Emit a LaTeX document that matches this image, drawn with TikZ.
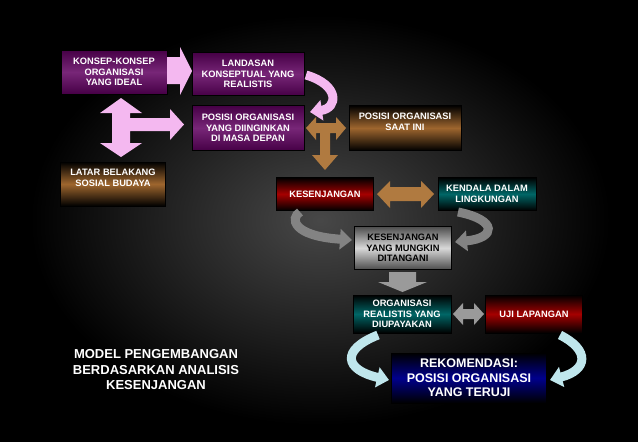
\documentclass[tikz,border=0pt]{standalone}
\usepackage{fontspec}
\setmainfont{Liberation Sans}
\usetikzlibrary{arrows.meta}
\definecolor{pinkA}{HTML}{F4B8F0}
\definecolor{brownA}{HTML}{B07A40}
\definecolor{grayA}{HTML}{9A9A9A}
\definecolor{cyanA}{HTML}{BFE6EC}
\tikzset{x=1pt,y=-1pt,
 box/.style={draw=black,line width=0.6pt,text=white,font=\bfseries\fontsize{9.3}{10.6}\selectfont,align=center,inner sep=0pt},
 purp/.style={box,top color=violet!55!black,bottom color=violet!55!black,middle color=violet!75!black!85},
 brn/.style={box,top color=black,bottom color=black,middle color=brown!90!orange!80!black},
 red/.style={box,top color=black,bottom color=black,middle color=red!65!black},
 teal/.style={box,top color=black,bottom color=black,middle color=teal!80!black},
 gry/.style={box,top color=black!70,bottom color=black!70,middle color=black!15,text=black},
 blu/.style={box,top color=black,bottom color=black,middle color=blue!55!black,font=\bfseries\fontsize{12.5}{14.5}\selectfont},
 curv/.style={line width=9pt,-{Triangle[length=12pt,width=20pt]}}
}
\begin{document}
\begin{tikzpicture}
\useasboundingbox (0,0) rectangle (638,442);
\fill[black] (0,0) rectangle (638,442);
\shade[inner color=black!72,outer color=black] (30,15) rectangle (610,425);
% boxes
\node[purp,minimum width=106pt,minimum height=44pt] (k) at (114,72) {KONSEP-KONSEP\\ORGANISASI\\YANG IDEAL};
\node[purp,minimum width=112pt,minimum height=43pt] (l) at (248,74) {LANDASAN\\KONSEPTUAL YANG\\REALISTIS};
\node[purp,minimum width=112pt,minimum height=45pt] (p) at (248,128) {POSISI ORGANISASI\\YANG DIINGINKAN\\DI MASA DEPAN};
\node[brn,minimum width=112pt,minimum height=45pt] (s) at (405,128) {POSISI ORGANISASI\\SAAT INI\\[2pt]};
\node[brn,minimum width=105pt,minimum height=44pt] (lb) at (113,184) {LATAR BELAKANG\\SOSIAL BUDAYA\\[2pt]};
\node[red,minimum width=97pt,minimum height=33pt] (g) at (325,194) {KESENJANGAN};
\node[teal,minimum width=98pt,minimum height=33pt] (kd) at (487,194) {KENDALA DALAM\\LINGKUNGAN};
\node[gry,minimum width=97pt,minimum height=43pt] (km) at (403,248) {KESENJANGAN\\YANG MUNGKIN\\DITANGANI};
\node[teal,minimum width=98pt,minimum height=38pt] (or) at (402,314) {ORGANISASI\\REALISTIS YANG\\DIUPAYAKAN};
\node[red,minimum width=97pt,minimum height=38pt] (u) at (534,314) {UJI LAPANGAN};
\node[blu,minimum width=155pt,minimum height=50pt] (r) at (469,378) {REKOMENDASI:\\POSISI ORGANISASI\\YANG TERUJI};
\node[text=white,font=\bfseries\fontsize{13}{15.5}\selectfont,align=center] (m) at (156,370) {MODEL PENGEMBANGAN\\BERDASARKAN ANALISIS\\KESENJANGAN};
% block arrows
\fill[pinkA] (167,57) -- (180,57) -- (180,47) -- (192,71) -- (180,95) -- (180,84) -- (167,84) -- cycle;
\fill[pinkA] (121,98) -- (142,113) -- (130,113) -- (130,118) -- (170,118) -- (170,109) -- (184,124.5) -- (170,140) -- (170,131) -- (130,131) -- (130,143) -- (142,143) -- (121,157) -- (100,143) -- (112,143) -- (112,113) -- (100,113) -- cycle;
\fill[brownA] (306,128) -- (316,117) -- (316,123) -- (336,123) -- (336,117) -- (346,128) -- (336,140) -- (336,133) -- (330,133) -- (330,155) -- (338,155) -- (325,170) -- (312,155) -- (320,155) -- (320,133) -- (316,133) -- (316,140) -- cycle;
\fill[brownA] (377,194) -- (390,181) -- (390,187) -- (421,187) -- (421,181) -- (434,194) -- (421,208) -- (421,201) -- (390,201) -- (390,208) -- cycle;
\fill[grayA] (389,272) -- (416,272) -- (416,282) -- (427,282) -- (402.5,292) -- (378,282) -- (389,282) -- cycle;
\fill[grayA] (453,314) -- (463,303) -- (463,309) -- (474,309) -- (474,303) -- (484,314) -- (474,325) -- (474,319) -- (463,319) -- (463,325) -- cycle;
% curved arrows
\draw[curv,pinkA] (306,75) .. controls (340,85) and (338,108) .. (310,112);
\draw[curv,grayA!85!black] (300,212) .. controls (290,218) and (292,236) .. (352,240);
\draw[curv,grayA!85!black] (458,212) .. controls (498,220) and (496,238) .. (455,242);
\draw[curv,cyanA] (378,335) .. controls (340,350) and (345,370) .. (389,380);
\draw[curv,cyanA] (560,335) .. controls (590,350) and (588,370) .. (550,380);
\end{tikzpicture}
\end{document}
